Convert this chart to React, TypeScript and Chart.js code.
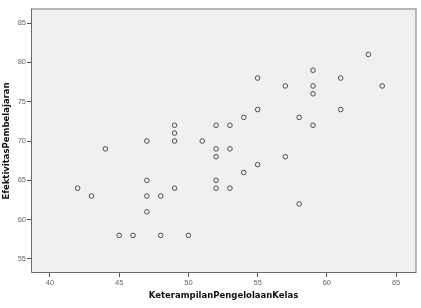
import React, { useEffect, useRef } from "react";
import { Chart, registerables } from "chart.js";

Chart.register(...registerables);

const keterampilan = [42, 43, 44, 45, 46, 47, 47, 47, 47, 48, 48, 49, 49, 49, 49, 50, 51, 52, 52, 52, 52, 52, 53, 53, 53, 54, 54, 55, 55, 55, 57, 57, 58, 58, 59, 59, 59, 59, 61, 61, 63, 64];
const efektivitas = [64, 63, 69, 58, 58, 70, 65, 63, 61, 63, 58, 72, 71, 70, 64, 58, 70, 72, 69, 68, 65, 64, 72, 69, 64, 73, 66, 78, 74, 67, 77, 68, 73, 62, 79, 77, 76, 72, 78, 74, 81, 77];
const xTicks = [40, 45, 50, 55, 60, 65];
const yTicks = [55, 60, 65, 70, 75, 80, 85];
const xTitle = "KeterampilanPengelolaanKelas";
const yTitle = "EfektivitasPembelajaran";

const plotFrame = {
  id: "plotFrame",
  beforeDraw(chart: any) {
    const { ctx, chartArea: a } = chart;
    ctx.save();
    ctx.fillStyle = "#f0f0f0";
    ctx.fillRect(a.left, a.top, a.right - a.left, a.bottom - a.top);
    ctx.restore();
  },
  afterDatasetsDraw(chart: any) {
    const { ctx, chartArea: a } = chart;
    ctx.save();
    ctx.lineWidth = 1.5;
    ctx.strokeStyle = "#a3a3a3";
    ctx.beginPath();
    ctx.moveTo(a.left, a.top);
    ctx.lineTo(a.right, a.top);
    ctx.lineTo(a.right, a.bottom);
    ctx.stroke();
    ctx.strokeStyle = "#6a6a6a";
    ctx.lineWidth = 1;
    ctx.beginPath();
    ctx.moveTo(a.left + 0.5, a.top);
    ctx.lineTo(a.left + 0.5, a.bottom - 0.5);
    ctx.lineTo(a.right, a.bottom - 0.5);
    ctx.stroke();
    ctx.restore();
  },
};

export default function App() {
  const ref = useRef<HTMLCanvasElement>(null);
  useEffect(() => {
    document.body.style.margin = "0";
    const data = keterampilan.map((x, i) => ({ x, y: efektivitas[i] }));
    const chart = new Chart(ref.current!, {
      type: "scatter",
      data: {
        datasets: [
          {
            data,
            pointStyle: "circle",
            pointRadius: 2.3,
            pointBorderWidth: 1,
            borderColor: "#4d4d4d",
            backgroundColor: "rgba(0,0,0,0)",
          },
        ],
      },
      plugins: [plotFrame],
      options: {
        animation: false,
        responsive: false,
        maintainAspectRatio: false,
        layout: { padding: { top: 9, right: 4, left: 0, bottom: 0 } },
        plugins: { legend: { display: false }, tooltip: { enabled: false } },
        scales: {
          x: {
            type: "linear",
            min: 38.63,
            max: 66.44,
            afterBuildTicks: (s: any) => {
              s.ticks = xTicks.map((v) => ({ value: v }));
            },
            afterFit: (s: any) => {
              s.height = 35;
            },
            grid: { drawOnChartArea: false, drawTicks: true, tickLength: 4, tickColor: "#555", lineWidth: 1 },
            border: { display: false },
            ticks: { color: "#666", font: { size: 7.5, family: "Liberation Sans" }, padding: 1, maxRotation: 0 },
            title: {
              display: true,
              text: xTitle,
              color: "#111",
              font: { size: 8.5, weight: "bold", family: "DejaVu Sans" },
              padding: { top: 0, bottom: 7 },
            },
          },
          y: {
            type: "linear",
            min: 53.22,
            max: 86.78,
            afterBuildTicks: (s: any) => {
              s.ticks = yTicks.map((v) => ({ value: v }));
            },
            afterFit: (s: any) => {
              s.width = 31;
            },
            grid: { drawOnChartArea: false, drawTicks: true, tickLength: 4, tickColor: "#555", lineWidth: 1 },
            border: { display: false },
            ticks: { color: "#666", font: { size: 7.5, family: "Liberation Sans" }, padding: 1 },
            title: {
              display: true,
              text: yTitle,
              color: "#111",
              font: { size: 8.5, weight: "bold", family: "DejaVu Sans" },
              padding: { top: 2, bottom: 0 },
            },
          },
        },
      },
    });
    return () => chart.destroy();
  }, []);
  return (
    <div style={{ width: 421, height: 308, background: "#fff" }}>
      <canvas ref={ref} width={421} height={308} style={{ display: "block" }} />
    </div>
  );
}
